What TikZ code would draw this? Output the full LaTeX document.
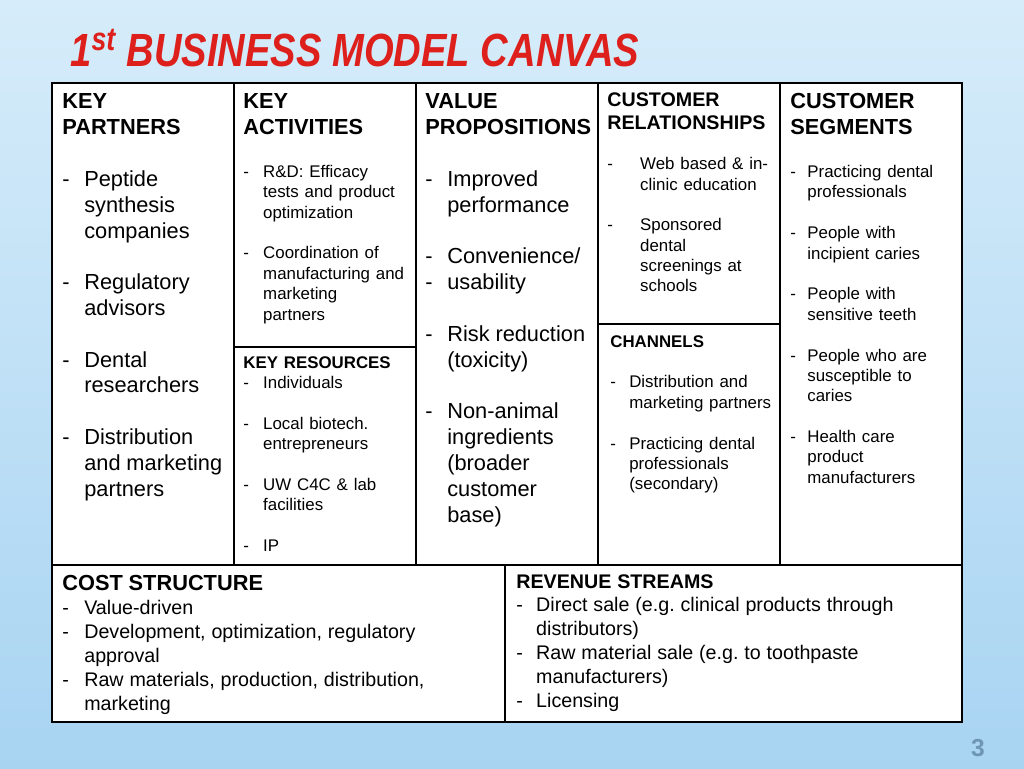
\documentclass[tikz,border=0pt]{standalone}
\usepackage{fontspec}
\usepackage{graphicx}
\setmainfont{Liberation Sans}
\definecolor{ttl}{RGB}{222,32,28}
\definecolor{bgt}{RGB}{214,236,250}
\definecolor{bgb}{RGB}{168,212,242}
\definecolor{pg}{RGB}{110,150,180}
\newlength\dw
\newcommand\li[1]{\par\hangindent=\dw\hangafter=1\noindent\makebox[\dw][l]{-}#1}
\newcommand\gap[1]{\par\vspace{#1}}
\newcommand\fbig{\fontsize{12.4}{14.7}\selectfont}
\newcommand\fmd{\fontsize{11.2}{13.6}\selectfont}
\newcommand\fsm{\fontsize{9.6}{11.6}\selectfont}
\tikzset{
 cell/.style={draw=black,line width=1.4pt},
 txt/.style={anchor=north west,inner sep=0pt,align=left,text width=#1},
}
\begin{document}
\begin{tikzpicture}[x=0.02cm,y=-0.02cm]
\shade[top color=bgt,bottom color=bgb] (0,0) rectangle (1024,768);
\useasboundingbox (0,0) rectangle (1024,768);
\node[anchor=base west,inner sep=0pt,text=ttl,font=\fontsize{26.5}{30}\selectfont\bfseries\itshape] (title) at (70,66) {\scalebox{0.82}[1]{1\textsuperscript{st} BUSINESS MODEL CANVAS}};
\fill[white] (52,83) rectangle (962,722);
\draw[cell] (52,83) rectangle (234,565);
\draw[cell] (234,83) rectangle (416,347);
\draw[cell] (234,347) rectangle (416,565);
\draw[cell] (416,83) rectangle (598,565);
\draw[cell] (598,83) rectangle (780,324);
\draw[cell] (598,324) rectangle (780,565);
\draw[cell] (780,83) rectangle (962,565);
\draw[cell] (52,565) rectangle (505,722);
\draw[cell] (505,565) rectangle (962,722);
% Key partners
\node[txt=3.4cm] (kp) at (62,93) {\raggedright\fbig\setlength\dw{12.5pt}\textbf{KEY\\PARTNERS}\gap{15pt}
\li{Peptide\newline synthesis\newline companies}\gap{14.7pt}
\li{Regulatory\newline advisors}\gap{14.7pt}
\li{Dental\newline researchers}\gap{14.7pt}
\li{Distribution\newline and marketing\newline partners}\par};
% Key activities
\node[txt=3.4cm] (ka) at (243,93) {\raggedright\fbig\textbf{KEY\\ACTIVITIES}\par\vspace{13pt}\fsm\setlength\dw{11.3pt}
\li{R\&D: Efficacy\newline tests and product\newline optimization}\gap{11.6pt}
\li{Coordination of\newline manufacturing and\newline marketing\newline partners}\par};
% Key resources
\node[txt=3.4cm] (kr) at (243,356) {\raggedright\fsm\setlength\dw{11.3pt}\textbf{KEY RESOURCES}
\li{Individuals}\gap{11.6pt}
\li{Local biotech.\newline entrepreneurs}\gap{11.6pt}
\li{UW C4C \& lab\newline facilities}\gap{11.6pt}
\li{IP}\par};
% Value propositions
\node[txt=3.5cm] (vp) at (425,93) {\raggedright\fbig\setlength\dw{12.5pt}\textbf{VALUE\\PROPOSITIONS}\gap{15pt}
\li{Improved\newline performance}\gap{14.7pt}
\li{Convenience/}\li{usability}\gap{14.7pt}
\li{Risk reduction\newline (toxicity)}\gap{14.7pt}
\li{Non-animal\newline ingredients\newline (broader\newline customer\newline base)}\par};
% Customer relationships
\node[txt=3.5cm] (cr) at (607,92) {\raggedright\fmd\textbf{CUSTOMER\\RELATIONSHIPS}\par\vspace{11pt}\fsm\setlength\dw{18.7pt}
\li{Web based \& in-\newline clinic\ education}\gap{11.6pt}
\li{Sponsored\newline dental\newline screenings at\newline schools}\par};
% Channels
\node[txt=3.4cm] (ch) at (610,335) {\raggedright\fsm\setlength\dw{10.8pt}\textbf{CHANNELS}\gap{11.6pt}
\li{Distribution and\newline marketing partners}\gap{11.6pt}
\li{Practicing dental\newline professionals\newline (secondary)}\par};
% Customer segments
\node[txt=3.4cm] (cs) at (790,93) {\raggedright\fbig\textbf{CUSTOMER\\SEGMENTS}\par\vspace{13pt}\fsm\setlength\dw{9.7pt}
\li{Practicing dental\newline professionals}\gap{11.6pt}
\li{People with\newline incipient caries}\gap{11.6pt}
\li{People with\newline sensitive teeth}\gap{11.6pt}
\li{People who are\newline susceptible to\newline caries}\gap{11.6pt}
\li{Health care\newline product\newline manufacturers}\par};
% Cost structure
\node[txt=8.5cm] (cost) at (62,575) {\raggedright\fmd\setlength\dw{12.5pt}{\fbig\textbf{COST STRUCTURE}}
\li{Value-driven}
\li{Development, optimization, regulatory\newline approval}
\li{Raw materials, production, distribution,\newline marketing}\par};
% Revenue streams
\node[txt=8.5cm] (rev) at (516,574) {\raggedright\fmd\setlength\dw{11.3pt}\textbf{REVENUE STREAMS}
\li{Direct sale (e.g.\ clinical products through\newline distributors)}
\li{Raw material sale (e.g.\ to toothpaste\newline manufacturers)}
\li{Licensing}\par};
\node[text=pg,font=\fontsize{14}{16}\selectfont\bfseries] (pgnum) at (978,748) {3};
\end{tikzpicture}
\end{document}
